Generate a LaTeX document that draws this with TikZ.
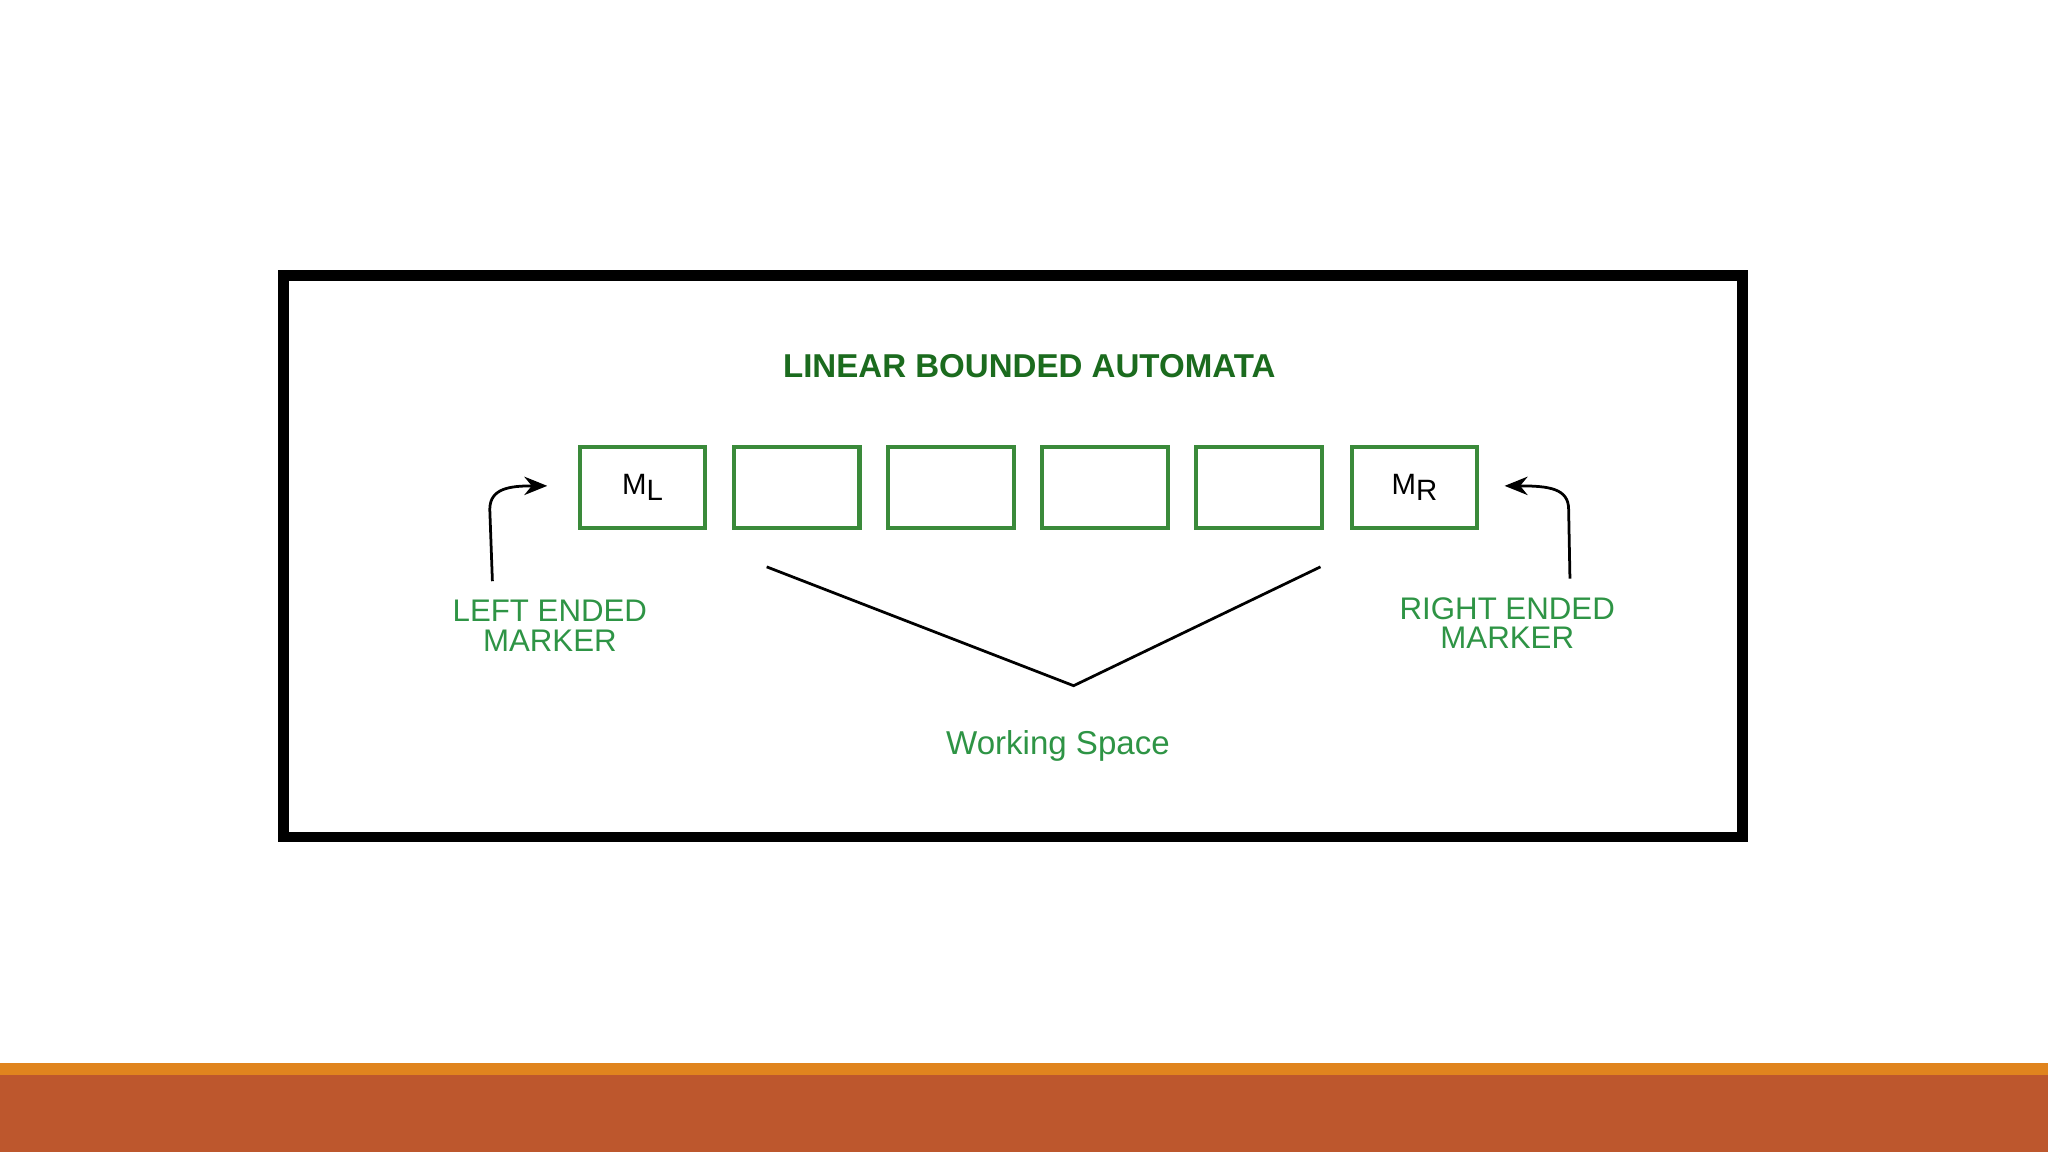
\documentclass[tikz,border=0pt]{standalone}
\usepackage{fontspec}
\setmainfont{Liberation Sans}
\usetikzlibrary{arrows.meta}
\definecolor{dg}{HTML}{1B6B1E}
\definecolor{gg}{HTML}{2E9445}
\definecolor{bx}{HTML}{3A8A3A}
\definecolor{rust}{HTML}{BD572D}
\definecolor{org}{HTML}{E0841E}
\tikzset{cell/.style={draw=bx,line width=0.9pt,minimum width=0.96cm,minimum height=0.62cm,inner sep=0pt,font=\fontsize{6.4}{7}\selectfont},
lbl/.style={text=gg,font=\fontsize{6.8}{6.4}\selectfont,align=center},
arr/.style={line width=0.6pt,-{Stealth[length=5pt,width=4pt]}}}
\begin{document}
\begin{tikzpicture}[x=0.01cm,y=-0.01cm]
\useasboundingbox (0,0) rectangle (1568,882);
\fill[white] (0,0) rectangle (1568,882);
\fill[org] (0,814) rectangle (1568,823);
\fill[rust] (0,823) rectangle (1568,882);
\draw[line width=0.08cm] (217,211) rectangle (1334,641);
\node[text=dg,font=\bfseries\fontsize{7.2}{8}\selectfont] (title) at (788,280) {LINEAR BOUNDED AUTOMATA};
\node[cell] (c1) at (492,373) {M\raisebox{-0.4ex}{L}};
\node[cell] (c2) at (610,373) {};
\node[cell] (c3) at (728,373) {};
\node[cell] (c4) at (846,373) {};
\node[cell] (c5) at (964,373) {};
\node[cell] (c6) at (1083,373) {M\raisebox{-0.4ex}{R}};
\node[lbl] (left) at (421,479) {LEFT ENDED\\MARKER};
\node[lbl] (right) at (1154,477) {RIGHT ENDED\\MARKER};
\node[text=gg,font=\fontsize{7.2}{8}\selectfont] (ws) at (810,571) {Working Space};
\coordinate (la) at (377,445); \coordinate (lt) at (419,372);
\coordinate (ra) at (1202,443); \coordinate (rt) at (1152,372);
\draw[arr] (la) -- (375,390) .. controls (375,374) and (390,372) .. (lt);
\draw[arr] (ra) -- (1201,390) .. controls (1201,374) and (1186,372) .. (rt);
\coordinate (v1) at (587,434); \coordinate (v2) at (822,525); \coordinate (v3) at (1011,434);
\draw[line width=0.6pt] (v1) -- (v2) -- (v3);
\end{tikzpicture}
\end{document}
